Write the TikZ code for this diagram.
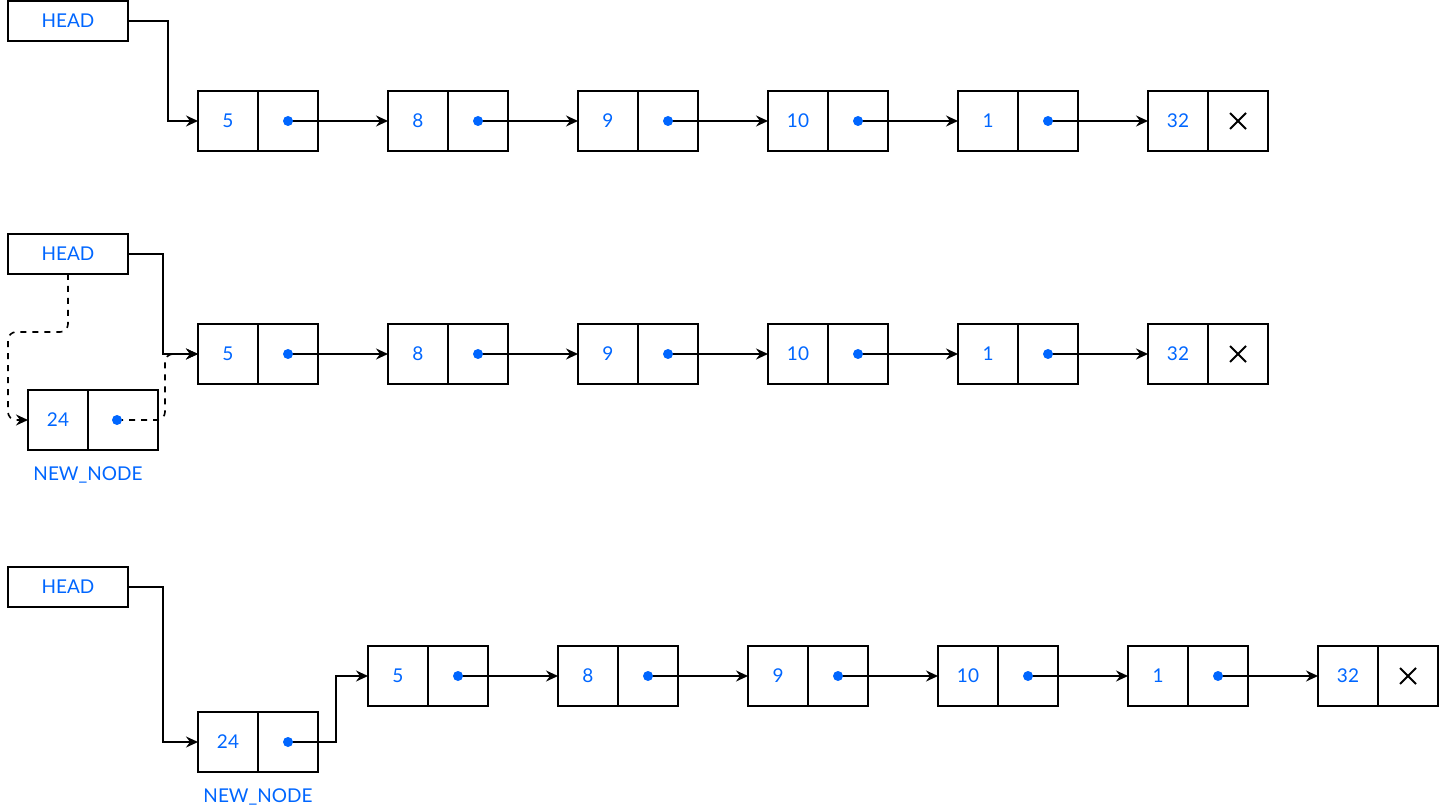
\documentclass[tikz,border=0pt]{standalone}
\usepackage{fontspec}
\setmainfont{Lato}
\usetikzlibrary{positioning,arrows.meta}
\definecolor{valblue}{RGB}{0,102,255}
\tikzset{
  cell/.style={draw, line width=0.9pt, minimum width=30pt, minimum height=30pt, inner sep=0pt, outer sep=0pt, text=valblue, font=\fontsize{9.5}{10}\selectfont},
  headbox/.style={cell, minimum width=60pt, minimum height=20pt},
  lbl/.style={text=valblue, font=\fontsize{9.5}{10}\selectfont},
  link/.style={line width=0.8pt, -{Stealth[length=6pt,width=5.5pt,inset=2pt]}},
  dot/.style={fill=valblue}
}
\begin{document}
\begin{tikzpicture}[x=0.5pt,y=-0.5pt]
				\useasboundingbox (0,0) rectangle (1440,812);
				
				% the three lists
				\foreach \row/\x/\y in {r1/228/121, r2/228/354, r3/398/676} {
					\foreach \v [count=\i] in {5,8,9,10,1,32} {
						\node[cell] (\row d\i) at ({\x+190*(\i-1)}, \y) {\v};
						\node[cell, right=0pt of \row d\i] (\row p\i) {};
					}
					\foreach \i in {1,...,5} {
						\pgfmathtruncatemacro{\j}{\i+1}
						\draw[link] (\row p\i.center) -- (\row d\j.west);
						\fill[dot] (\row p\i.center) circle (2.5pt);
					}
					\draw[line width=0.9pt] ([shift={(-8,-8)}]\row p6.center) -- ([shift={(8,8)}]\row p6.center);
					\draw[line width=0.9pt] ([shift={(-8,8)}]\row p6.center) -- ([shift={(8,-8)}]\row p6.center);
				}
				
				% heads
				\node[headbox] (h1) at (68,21) {HEAD};
				\node[headbox] (h2) at (68,254) {HEAD};
				\node[headbox] (h3) at (68,587) {HEAD};
				
				% new node, second list
				\node[cell] (nd2) at (58,420) {24};
				\node[cell, minimum width=35pt, right=0pt of nd2] (np2) {};
				\node[lbl] (nl2) at (88,475) {NEW\_NODE};
				
				% new node, third list
				\node[cell] (nd3) at (228,742) {24};
				\node[cell, right=0pt of nd3] (np3) {};
				\node[lbl] (nl3) at (258,797) {NEW\_NODE};
				
				\draw[link] (h1.east) -- ++(40,0) |- (r1d1.west);
				\draw[link] (h2.east) -- ++(35,0) |- (r2d1.west);
				\draw[link, dashed, rounded corners=4pt] (h2.south) |- ++(-60,58) |- (nd2.west);
				\draw[link, dashed, rounded corners=4pt] ([xshift=-3]np2.center) -- ++(48,0) |- (r2d1.west);
				\fill[dot] ([xshift=-3]np2.center) circle (2.5pt);
				
				\draw[link] (h3.east) -- ++(35,0) |- (nd3.west);
				\draw[link] (np3.center) -- ++(48,0) |- (r3d1.west);
				\fill[dot] (np3.center) circle (2.5pt);
			\end{tikzpicture}
\end{document}
